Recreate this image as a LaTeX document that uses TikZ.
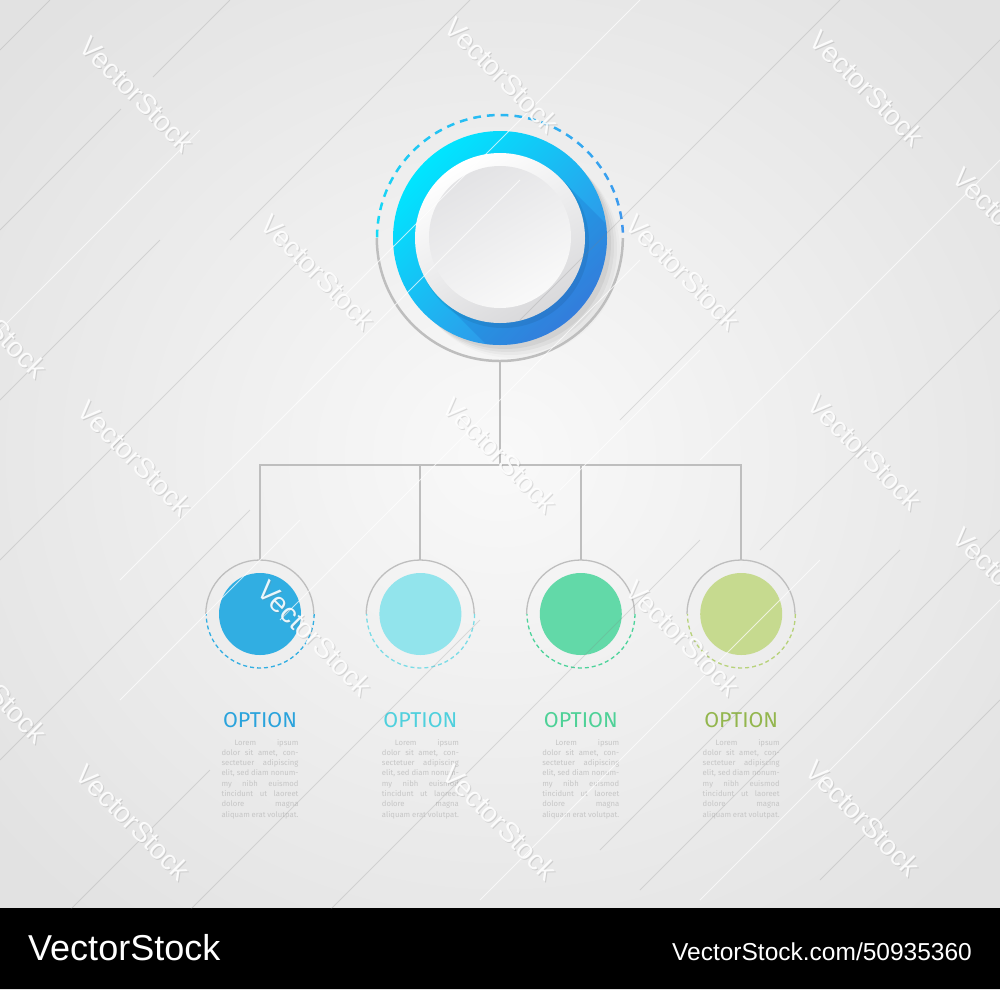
\documentclass[tikz,border=0pt]{standalone}
\usepackage{fontspec}
\setmainfont{Liberation Sans}
\newfontfamily\lightfont{Fira Sans}
\usetikzlibrary{positioning,calc}

\definecolor{bgmid}{HTML}{F9F9F9}
\definecolor{bgedge}{HTML}{E2E2E2}
\definecolor{ringgray}{HTML}{BEBEBE}
\definecolor{hubcyan}{HTML}{00E6FF}
\definecolor{hubblue}{HTML}{3A86E4}
\definecolor{hubdeep}{HTML}{1C5FC0}
\definecolor{dashcyan}{HTML}{14DAF6}
\definecolor{dashblue}{HTML}{3E97EE}
\definecolor{rimgray}{HTML}{D9D9DB}
\definecolor{facetop}{HTML}{E3E3E5}
\definecolor{facebot}{HTML}{F9F9F9}
\definecolor{loremgray}{HTML}{C6C6C6}
\definecolor{optAfill}{HTML}{31AEE2}
\definecolor{optAdash}{HTML}{31AEE2}
\definecolor{optAlab}{HTML}{2AA3DC}
\definecolor{optBfill}{HTML}{92E4EC}
\definecolor{optBdash}{HTML}{7ADCE6}
\definecolor{optBlab}{HTML}{4FD0DD}
\definecolor{optCfill}{HTML}{62D9A8}
\definecolor{optCdash}{HTML}{4CD39A}
\definecolor{optClab}{HTML}{4ED197}
\definecolor{optDfill}{HTML}{C6DA8F}
\definecolor{optDdash}{HTML}{B7D27A}
\definecolor{optDlab}{HTML}{93B64E}

\newcommand\loremlines{%
\hspace*{13pt}\makebox[64pt][s]{Lorem ipsum}\\
\makebox[77pt][s]{dolor sit amet, con-}\\
\makebox[77pt][s]{sectetuer adipiscing}\\
\makebox[77pt][s]{elit, sed diam nonum-}\\
\makebox[77pt][s]{my nibh euismod}\\
\makebox[77pt][s]{tincidunt ut laoreet}\\
\makebox[77pt][s]{dolore magna}\\
\makebox[77pt][s]{aliquam erat volutpat.}}

\tikzset{
  ring/.style={draw=ringgray, line width=2.5pt},
  thinring/.style={draw=ringgray, line width=1.3pt},
  wire/.style={draw=ringgray, line width=2pt},
  hubnode/.style={circle, inner sep=0pt, minimum size=246pt},
  optnode/.style={circle, inner sep=0pt, minimum size=108pt},
  optlabel/.style={font=\lightfont\fontsize{21.5}{22}\selectfont, inner sep=0pt},
  lorem/.style={font=\lightfont\fontsize{7.7}{10.3}\selectfont, text=loremgray,
    align=left, inner sep=0pt},
  wmark/.style={font=\fontsize{28}{28}\selectfont, rotate=-45},
  darkline/.style={draw=gray, opacity=0.22, line width=0.8pt},
  lightline/.style={draw=white, opacity=0.7, line width=0.9pt},
}

\begin{document}
\begin{tikzpicture}[x=1pt,y=-1pt]
\useasboundingbox (0,0) rectangle (1000,989);
% background
\shade[inner color=bgmid, outer color=bgedge] (-150,-150) rectangle (1150,1060);
\fill[black] (0,908) rectangle (1000,989);

% hub
\node[hubnode] (hub) at (500,238) {};
\foreach \s/\o in {14/0.02,11/0.03,8/0.04,5/0.05}
  \fill[black, opacity=\o] ([shift={(\s,\s)}]hub.center) circle (106);
\shade[top color=hubcyan, bottom color=hubblue, shading angle=45] (hub.center) circle (107);
\begin{scope}
  \clip (hub.center) circle (107);
  \fill[hubdeep, opacity=0.22] ($(hub.center)+(-45:85)$) -- ++(45:260)
    -- ($(hub.center)+(135:85)+(45:260)$) -- ($(hub.center)+(135:85)$) -- cycle;
\end{scope}
\fill[black, opacity=0.07] ([shift={(3,4)}]hub.center) circle (86);
\shade[top color=white, bottom color=rimgray, shading angle=30] (hub.center) circle (85);
\shade[top color=facetop, bottom color=facebot, shading angle=30] ([shift={(0,-1)}]hub.center) circle (71);
\draw[ring] (hub.west) arc[start angle=180, end angle=0, radius=123];
\foreach \k in {0,...,27} {
  \pgfmathsetmacro\a{180.3+\k*6.43}
  \pgfmathtruncatemacro\p{100-\k*100/27}
  \draw[dashcyan!\p!dashblue, line width=2.5pt] ($(hub.center)+(\a:123)$)
    arc[start angle=\a, delta angle=3.6, radius=123];
}

% options
\node[optnode] (opt1) at (260,614) {};
\node[optnode, right=52pt of opt1] (opt2) {};
\node[optnode, right=52pt of opt2] (opt3) {};
\node[optnode, right=52pt of opt3] (opt4) {};
\foreach \i/\c in {1/optA,2/optB,3/optC,4/optD} {
  \fill[\c fill] (opt\i.center) circle (41);
  \draw[thinring] (opt\i.west) arc[start angle=180, end angle=360, radius=54];
  \draw[\c dash, line width=1.3pt, dash pattern=on 4pt off 3pt]
    (opt\i.east) arc[start angle=0, end angle=180, radius=54];
  \node[optlabel, text=\c lab] (lab\i) at (opt\i.center |- 0,720) {OPTION};
  \node[lorem, below=11pt of lab\i] (text\i) {\loremlines};
}

% connectors
\coordinate (bus) at (500,465);
\draw[wire] (hub.south) -- (bus);
\draw[wire] (opt1.north) -- (opt1.north |- bus) -- (opt4.north |- bus) -- (opt4.north);
\draw[wire] (opt2.north) -- (opt2.north |- bus);
\draw[wire] (opt3.north) -- (opt3.north |- bus);

% watermark overlay
\begin{scope}
  \clip (0,0) rectangle (1000,908);
  \foreach \c/\xa/\xb/\st in {50/0/50/darkline, 230/0/121/darkline, 230/153/230/darkline,
      330/0/200/lightline, 400/0/160/darkline, 470/230/470/darkline, 560/0/300/darkline,
      640/330/640/lightline, 700/120/520/lightline, 760/0/250/darkline, 840/520/840/darkline,
      900/280/640/lightline, 980/0/210/darkline, 1040/620/1000/darkline, 1100/150/480/darkline,
      1160/700/1000/lightline, 1240/300/700/darkline, 1310/760/1000/darkline,
      1380/480/820/lightline, 1450/600/900/darkline, 1530/640/1000/darkline,
      1600/700/1000/lightline, 1700/820/1000/darkline, 1180/40/260/lightline,
      1050/560/700/lightline, 820/120/300/lightline}
    \draw[\st] (\xa,\c-\xa) -- (\xb,\c-\xb);
  \foreach \wx/\wy in {137/94, 502/75, 867/88, 318/272, 683/272, 135/458, 500/455,
      865/452, 315/638, 683/638, 133/822, 500/822, 863/818, -10/320, 1010/225,
      -10/685, 1010/585}
  {
    \node[wmark, text=gray, opacity=0.25] (wmsh) at (\wx+1,\wy+1) {VectorStock};
    \node[wmark, text=white, opacity=0.9] (wm) at (\wx,\wy) {VectorStock};
  }
\end{scope}

% footer
\node[anchor=base west, text=white, font=\fontsize{36}{36}\selectfont, inner sep=0pt]
  (brand) at (28,960) {VectorStock};
\node[anchor=base east, text=white, font=\fontsize{24.5}{25}\selectfont, inner sep=0pt]
  (url) at (972,960) {VectorStock.com/50935360};
\end{tikzpicture}
\end{document}
